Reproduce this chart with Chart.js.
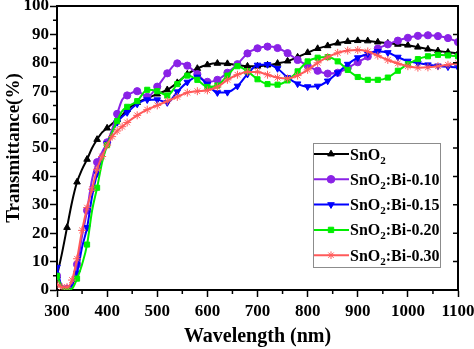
<!DOCTYPE html>
<html>
<head>
<meta charset="utf-8">
<script src="https://cdn.jsdelivr.net/npm/chart.js@4.4.1/dist/chart.umd.min.js"></script>
<style>
html,body{margin:0;padding:0;background:#fff;}
#wrap{position:relative;width:474px;height:349px;}
</style>
</head>
<body>
<div id="wrap"><canvas id="c" width="474" height="349"></canvas></div>
<script>
// ---- data ----
const wavelengths = [300,310,320,330,340,350,360,370,380,390,400,410,420,430,440,
  460,480,500,520,540,560,580,600,620,640,660,680,700,720,740,760,780,800,
  820,840,860,880,900,920,940,960,980,1000,1020,1040,1060,1080,1100];
const sno2 = [5,13,22,31,38,42.5,46,50,53,55.5,57,58.5,60,61.5,63.5,
  66,67.5,69,70.5,73,76,78,79.3,79.8,79.7,79.2,78.8,78.8,79.2,79.8,80.6,82,83.6,
  85,86,86.9,87.5,87.8,87.7,87.3,86.9,86.5,86.2,85.5,84.8,84.2,83.7,83.3];
const bi010 = [5,1.5,0.5,2.5,9,19,28,39,45,48.5,52,56.5,62,67,68.5,
  70,68,71.6,76.3,79.8,79,76,73.3,74,76.5,79.5,83.3,85.1,85.7,85.2,83.4,81,79,
  77.2,76.2,76.5,78.2,80.2,82.2,85,86.5,87.8,88.8,89.5,89.7,89.4,88.7,87.3];
const bi015 = [8,1,0.5,1.5,6,15,22,33,41,46.5,51.5,55.5,59,61,62.5,
  65.5,67,67,66,69.8,73.2,75,72.5,69.5,69.6,71.8,76,79.2,79.4,78,74.8,72.6,71.6,
  71.8,73.6,76.5,79.5,81.8,83.2,84,83.6,82,80.6,79.9,79.3,78.9,78.6,78.4];
const bi020 = [5,1,0,0.5,4,9,16,28,36,45,51,55.5,59.5,63,64.5,
  66.5,70.5,70,68.5,72.5,75.5,74,71.5,72,75.5,78.8,77,74.2,72.5,72.3,73.8,77,80.5,
  81.8,82,80.5,77.5,75,74,74,74.8,77.2,79.5,81.3,82.3,82.8,82.6,82.3];
const bi030 = [2,1,1,3.5,11,21,29,35.5,42.5,47,51,54,56,57.5,59,
  61.5,63.5,65,66.5,68,69.5,70,70.3,71.5,74,75.8,76.8,76.8,75.8,74.8,74.5,75.5,77.5,
  80,82,83.5,84.3,84.5,84,82.5,81,79.8,78.8,78.3,78.4,78.8,79.3,79.8];
const seriesLabels = ['SnO₂','SnO₂:Bi-0.10','SnO₂:Bi-0.15','SnO₂:Bi-0.20','SnO₂:Bi-0.30'];
const xTicks = [300,400,500,600,700,800,900,1000,1100];
const yTicks = [0,10,20,30,40,50,60,70,80,90,100];

const FONT = '"Liberation Serif","Times New Roman",serif';
const pts = arr => arr.map((v,i)=>({x:wavelengths[i], y:v}));
const every20 = r => c => (wavelengths[c.dataIndex] % 20 === 0 ? r : 0);

function mk(label, data, color, style, rot, radiusFn, order){
  return {label, data: pts(data), borderColor: color, backgroundColor: color,
    pointBackgroundColor: color, pointBorderColor: color, pointStyle: style,
    pointRotation: rot, pointRadius: radiusFn, pointBorderWidth: 1,
    borderWidth: 2, cubicInterpolationMode: 'monotone', order};
}

const datasets = [
  mk(seriesLabels[0], sno2, '#000000', 'triangle', 0, every20(3.8), 5),
  mk(seriesLabels[1], bi010, '#8a22e6', 'circle', 0, every20(3.6), 4),
  mk(seriesLabels[2], bi015, '#0000ff', 'triangle', 180, every20(3.8), 3),
  mk(seriesLabels[3], bi020, '#00ee00', 'rect', 0, every20(3.6), 2),
  mk(seriesLabels[4], bi030, '#ff5a5a', 'star', 0, 4, 1)
];

function drawMarker(ctx, ds, x, y){
  ctx.save();
  ctx.fillStyle = ds.pointBackgroundColor; ctx.strokeStyle = ds.pointBorderColor; ctx.lineWidth = 1;
  if (Chart.helpers && Chart.helpers.drawPoint){
    Chart.helpers.drawPoint(ctx, {pointStyle: ds.pointStyle, rotation: ds.pointRotation||0, radius: 3.8, borderWidth: 1}, x, y);
  }
  ctx.restore();
}

const framePlugin = {
  id: 'frame',
  afterDraw(chart){
    const {ctx, chartArea:{left,right,top,bottom}, scales:{x,y}} = chart;
    ctx.save();
    ctx.strokeStyle = '#000';
    ctx.lineWidth = 2;
    ctx.beginPath(); ctx.moveTo(left-1, top); ctx.lineTo(right, top); ctx.lineTo(right, bottom); ctx.stroke();
    ctx.lineWidth = 1.5;
    ctx.beginPath();
    for (let v = 350; v < 1100; v += 100){ const px = x.getPixelForValue(v); ctx.moveTo(px, bottom); ctx.lineTo(px, bottom+4); }
    for (let v = 5; v < 100; v += 10){ const py = y.getPixelForValue(v); ctx.moveTo(left, py); ctx.lineTo(left-4, py); }
    for (const v of yTicks){ const py = y.getPixelForValue(v); ctx.moveTo(right, py); ctx.lineTo(right-5, py); }
    ctx.stroke();
    ctx.restore();
  }
};

const legendPlugin = {
  id: 'insideLegend',
  afterDraw(chart){
    const ctx = chart.ctx;
    const bx = 313, by = 143, bw = 127, bh = 124;
    ctx.save();
    ctx.fillStyle = '#fff'; ctx.fillRect(bx, by, bw, bh);
    ctx.strokeStyle = '#8c8c8c'; ctx.lineWidth = 1; ctx.strokeRect(bx+0.5, by+0.5, bw, bh);
    chart.data.datasets.forEach((ds, i) => {
      const cy = by + 11 + i*25.3;
      ctx.strokeStyle = ds.borderColor; ctx.lineWidth = 2;
      ctx.beginPath(); ctx.moveTo(bx+1, cy); ctx.lineTo(bx+36, cy); ctx.stroke();
      drawMarker(ctx, ds, bx+18, cy);
      const parts = ds.label.split('₂');
      let tx = bx + 37;
      const base = cy + 5.5;
      ctx.fillStyle = '#000'; ctx.textBaseline = 'alphabetic'; ctx.textAlign = 'left';
      ctx.font = 'bold 16px ' + FONT;
      ctx.fillText(parts[0], tx, base); tx += ctx.measureText(parts[0]).width;
      ctx.font = 'bold 11px ' + FONT;
      ctx.fillText('2', tx, base + 4); tx += ctx.measureText('2').width;
      if (parts[1]){ ctx.font = 'bold 16px ' + FONT; ctx.fillText(parts[1], tx, base); }
    });
    ctx.restore();
  }
};

new Chart(document.getElementById('c'), {
  type: 'line',
  data: { datasets },
  options: {
    responsive: false, animation: false, events: [],
    layout: { padding: { top: 6, right: 16, left: 0, bottom: 0 } },
    plugins: { legend: { display: false }, tooltip: { enabled: false } },
    scales: {
      x: {
        type: 'linear', min: 300, max: 1100,
        afterBuildTicks: s => { s.ticks = xTicks.map(v => ({value: v})); },
        afterFit: s => { s.height = 59; s.paddingLeft = 0; s.paddingRight = 0; },
        border: { display: true, color: '#000', width: 2 },
        grid: { display: true, drawOnChartArea: false, drawTicks: true, tickLength: 7, tickWidth: 1.5, tickColor: '#000' },
        ticks: { color: '#000', padding: 4, maxRotation: 0, callback: v => String(v),
          font: { family: FONT, size: 17, weight: 'bold' } },
        title: { display: true, text: 'Wavelength (nm)', color: '#000', padding: { top: 0, bottom: 0 },
          font: { family: FONT, size: 20, weight: 'bold' } }
      },
      y: {
        type: 'linear', min: 0, max: 100,
        afterBuildTicks: s => { s.ticks = yTicks.map(v => ({value: v})); },
        afterFit: s => { s.width = 57; s.paddingTop = 0; s.paddingBottom = 0; },
        border: { display: true, color: '#000', width: 2 },
        grid: { display: true, drawOnChartArea: false, drawTicks: true, tickLength: 7, tickWidth: 1.5, tickColor: '#000' },
        ticks: { color: '#000', padding: 1, callback: v => String(v),
          font: { family: FONT, size: 17, weight: 'bold' } },
        title: { display: true, text: 'Transmittance(%)', color: '#000', padding: { top: 3, bottom: 0 },
          font: { family: FONT, size: 19, weight: 'bold' } }
      }
    }
  },
  plugins: [framePlugin, legendPlugin]
});
</script>
</body>
</html>
